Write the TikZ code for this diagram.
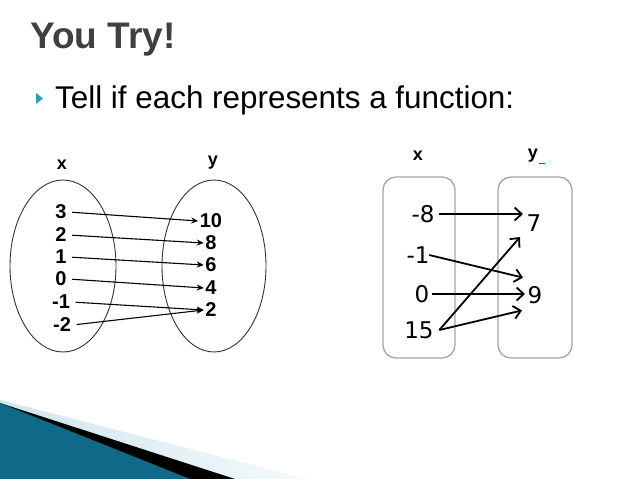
\documentclass[tikz,border=0pt]{standalone}
\usepackage{fontspec}
\setmainfont{Liberation Sans}
\newfontfamily\verd{DejaVu Sans}
\usetikzlibrary{arrows.meta}

\definecolor{titlegray}{HTML}{404040}
\definecolor{bullteal}{HTML}{2A9DB5}
\definecolor{tealdark}{HTML}{0E6A86}
\definecolor{teallight}{HTML}{55B6D2}
\definecolor{paleblue}{HTML}{CFE5EE}
\definecolor{boxgray}{HTML}{A6A6A6}

\tikzset{
  lhead/.style={font=\fontsize{18}{18}\selectfont\bfseries},
  lnum/.style={font=\fontsize{20}{20}\selectfont\bfseries,inner sep=1.5pt},
  rnum/.style={font=\verd\fontsize{23}{23}\selectfont,inner sep=2.5pt},
  larr/.style={-{Stealth[length=7pt,width=6pt]},line width=1.1pt,shorten <=4pt},
  rarr/.style={-{Straight Barb[length=7pt,width=13pt]},line width=1.8pt}
}

\begin{document}
\begin{tikzpicture}[x=1pt,y=-1pt]
\fill[white] (0,0) rectangle (638,479);

% heading
\node[anchor=base west,inner sep=0pt,text=titlegray,font=\fontsize{37}{40}\selectfont\bfseries] (title) at (30,48) {You Try!};
\fill[bullteal] (36,93) -- (43,98.5) -- (36,104) -- cycle;
\node[anchor=base west,inner sep=0pt,font=\fontsize{31.4}{34}\selectfont] (task) at (55,108) {Tell if each represents a function:};

% first mapping
\draw[line width=0.9pt,black!80] (63,266) ellipse [x radius=53,y radius=86];
\draw[line width=0.9pt,black!80] (214,266) ellipse [x radius=52,y radius=86];
\node[lhead] (lx) at (62,165) {x};
\node[lhead] (ly) at (213,163) {y};
\node[lnum] (a3) at (61,212) {3};
\node[lnum] (a2) at (61,235) {2};
\node[lnum] (a1) at (61,257) {1};
\node[lnum] (a0) at (61,279) {0};
\node[lnum] (am1) at (61,302) {-1};
\node[lnum] (am2) at (62,325) {-2};
\node[lnum] (b10) at (211,221) {10};
\node[lnum] (b8) at (211,243) {8};
\node[lnum] (b6) at (211,265) {6};
\node[lnum] (b4) at (211,288) {4};
\node[lnum] (b2) at (211,310) {2};
\draw[larr] (a3.east) -- (b10.west);
\draw[larr] (a2.east) -- (b8.west);
\draw[larr] (a1.east) -- (b6.west);
\draw[larr] (a0.east) -- (b4.west);
\draw[larr] (am1.east) -- (b2.west);
\draw[larr] (am2.east) -- (b2.west);

% second mapping
\draw[boxgray,line width=1.3pt,rounded corners=13pt] (383,177) rectangle (455,358);
\draw[boxgray,line width=1.3pt,rounded corners=13pt] (498,177) rectangle (572,358);
\node[lhead] (rx) at (418,156) {x};
\node[lhead] (ry) at (533,156) {y};
\draw[red,line width=1pt] (539,163) -- (545,163);
\node[rnum] (cm8) at (423,214) {-8};
\node[rnum] (cm1) at (418,255) {-1};
\node[rnum] (c0) at (422,294) {0};
\node[rnum] (c15) at (419,330) {15};
\node[rnum] (d7) at (534,223) {7};
\node[rnum] (d9) at (535,295) {9};
\coordinate (f15) at ([xshift=3pt]c15.east);
\draw[rarr] ([xshift=2pt]cm8.east) -- ([xshift=-1pt]cm8.east -| d7.west);
\draw[rarr] ([xshift=-3pt]cm1.east) -- ([shift={(-2pt,6pt)}]d9.north west);
\draw[rarr] (c0.east) -- (c0.east -| d9.west);
\draw[rarr] (f15) -- ([shift={(-4pt,-3pt)}]d7.south west);
\draw[rarr] (f15) -- ([shift={(-3pt,-4pt)}]d9.south west);

% corner decoration
\shade[left color=paleblue,right color=paleblue!20] (0,400) -- (307,479) -- (0,479) -- cycle;
\fill[black] (0,403) -- (235,479) -- (0,479) -- cycle;
\shade[left color=tealdark,middle color=teallight,right color=tealdark] (0,403) -- (190,479) -- (0,479) -- cycle;
\end{tikzpicture}
\end{document}
